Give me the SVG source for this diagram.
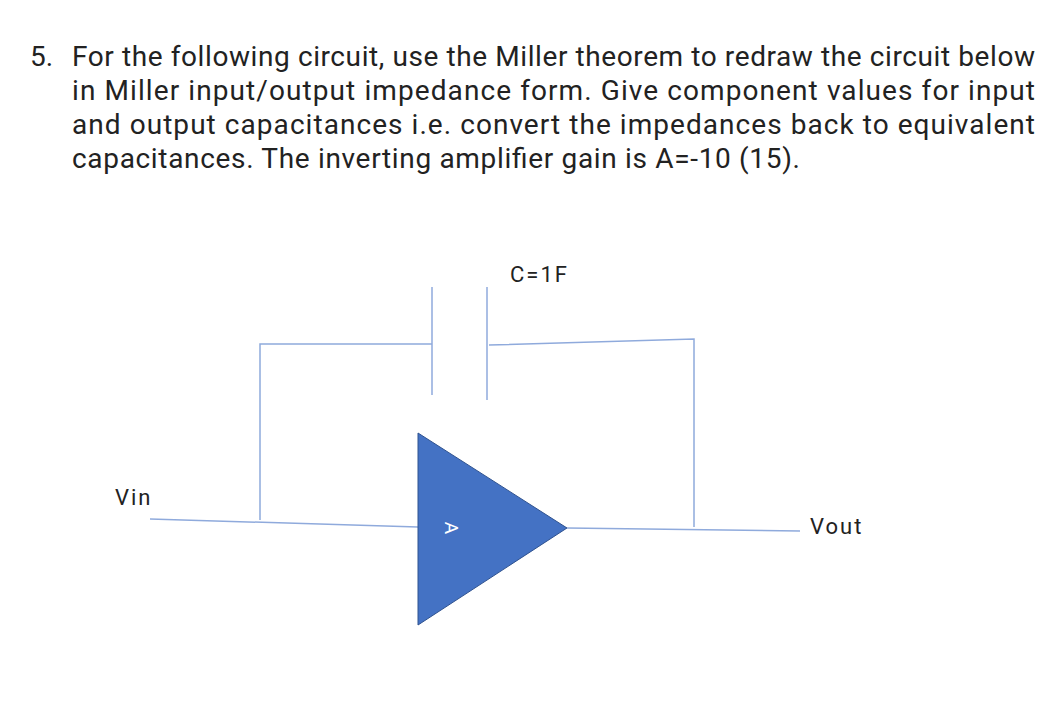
<svg xmlns="http://www.w3.org/2000/svg" width="1064" height="720" viewBox="0 0 1064 720">
<style>
.t{font-family:Roboto,"Liberation Sans",sans-serif;font-size:28px;fill:#222}
.l{font-family:Roboto,"Liberation Sans",sans-serif;font-size:22px;fill:#222;letter-spacing:2px}
.w{stroke:#8FAADC;stroke-width:1.5;fill:none}
</style>
<rect width="1064" height="720" fill="#fff"/>
<g id="question">
<text class="t" x="30" y="66">5.</text>
<text class="t" x="72" y="66" textLength="963" lengthAdjust="spacing">For the following circuit, use the Miller theorem to redraw the circuit below</text>
<text class="t" x="72" y="100" textLength="963" lengthAdjust="spacing">in Miller input/output impedance form. Give component values for input</text>
<text class="t" x="72" y="134" textLength="963" lengthAdjust="spacing">and output capacitances i.e. convert the impedances back to equivalent</text>
<text class="t" x="72" y="168" textLength="728" lengthAdjust="spacing">capacitances.  The inverting amplifier gain is A=-10 (15).</text>
</g>
<g id="connectors">
<polyline class="w" points="260,520 260,344 432,344"/>
<polyline class="w" points="489,345 694,339 694,527"/>
<line class="w" x1="150" y1="519" x2="418" y2="527"/>
<line class="w" x1="567" y1="528" x2="800" y2="531"/>
</g>
<g id="capacitor">
<line class="w" x1="432" y1="287" x2="432" y2="395"/>
<line class="w" x1="487" y1="287" x2="487" y2="400"/>
<text class="l" x="510" y="282">C=1F</text>
</g>
<g id="amplifier">
<polygon points="418,433 567,528 418,625" fill="#4472C4" stroke="#2F528F" stroke-width="1"/>
<text transform="translate(451,528) rotate(90)" text-anchor="middle" dominant-baseline="central" font-family="Roboto,'Liberation Sans',sans-serif" font-size="19" fill="#fff">A</text>
</g>
<g id="labels">
<text class="l" x="115" y="505">Vin</text>
<text class="l" x="810" y="534">Vout</text>
</g>
</svg>
